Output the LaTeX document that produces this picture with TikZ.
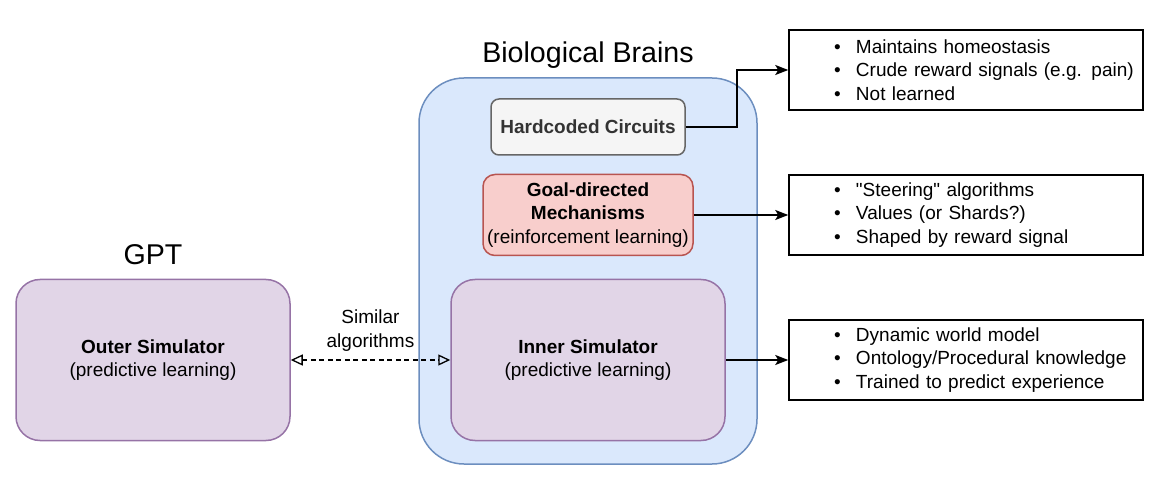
\documentclass[tikz,border=0pt]{standalone}
\usepackage{fontspec}
\setmainfont{Liberation Sans}
\usepackage{tikz}
\usetikzlibrary{calc,arrows.meta}

\definecolor{brainfill}{HTML}{DAE8FC}
\definecolor{brainline}{HTML}{6C8EBF}
\definecolor{hardfill}{HTML}{F5F5F5}
\definecolor{hardline}{HTML}{666666}
\definecolor{hardtext}{HTML}{333333}
\definecolor{goalfill}{HTML}{F8CECC}
\definecolor{goalline}{HTML}{B85450}
\definecolor{simfill}{HTML}{E1D5E7}
\definecolor{simline}{HTML}{9673A6}

\newcommand{\bul}[1]{\mbox{\makebox[22pt][l]{\textbullet}#1}}

\begin{document}
\begin{tikzpicture}[x=1pt, y=-1pt, >={Stealth[length=13pt,width=10pt,inset=3pt]}, line width=1.5pt,
    every node/.style={font=\fontsize{19}{23.5}\selectfont, inner sep=0pt, align=center},
    title/.style={font=\fontsize{28.6}{32}\selectfont},
    simbox/.style={draw=simline, fill=simfill, rounded corners=24pt,
        minimum width=274pt, minimum height=161pt},
    notebox/.style={draw=black, minimum width=354pt, minimum height=80pt,
        text width=264pt, align=left, inner xsep=45pt}]
    % canvas
    \useasboundingbox (0,0) rectangle (1160,481);

    % 1. Container for the brain
    \node[draw=brainline, fill=brainfill, rounded corners=45pt,
        minimum width=338pt, minimum height=386pt] (brain) at (588,271) {};
    \node[title] (braintitle) at (588,55) {Biological Brains};

    % 2. Parts of the brain
    \node[draw=hardline, fill=hardfill, rounded corners=8pt, text=hardtext,
        minimum width=194pt, minimum height=56pt] (hard) at (588,127)
        {\textbf{Hardcoded Circuits}};
    \node[draw=goalline, fill=goalfill, rounded corners=12pt,
        minimum width=210pt, minimum height=81pt] (goal) at (588,215)
        {\textbf{Goal-directed}\\\textbf{Mechanisms}\\(reinforcement learning)};
    \node[simbox] (inner) at (588,360)
        {\textbf{Inner Simulator}\\(predictive learning)};

    % 3. GPT on the left
    \node[title] (gpttitle) at (153,255) {GPT};
    \node[simbox] (outer) at (153,360)
        {\textbf{Outer Simulator}\\(predictive learning)};

    % 4. Notes on the right
    \node[notebox] (note1) at (966,70)
        {\bul{Maintains homeostasis}\\\bul{Crude reward signals (e.g. pain)}\\\bul{Not learned}};
    \node[notebox] (note2) at (966,215)
        {\bul{\textquotedbl Steering\textquotedbl\ algorithms}\\\bul{Values (or Shards?)}\\\bul{Shaped by reward signal}};
    \node[notebox] (note3) at (966,360)
        {\bul{Dynamic world model}\\\bul{Ontology/Procedural knowledge}\\\bul{Trained to predict experience}};

    % 5. Connectors
    \coordinate (mid1) at ($(hard.east)!0.5!(note1.west)$);
    \draw[->] (hard.east) -| (mid1) |- (note1.west);
    \draw[->] (goal.east) -- (goal.east -| note2.west);
    \draw[->] (inner.east) -- (note3.west);

    % 6. Similar algorithms
    \draw[{Triangle[open,length=12pt,width=11pt]}-{Triangle[open,length=12pt,width=11pt]},
        dash pattern=on 5pt off 3.5pt, line width=1.3pt]
        (outer.east) -- (inner.west) node[midway, above=8pt] (simlabel) {Similar\\algorithms};
\end{tikzpicture}
\end{document}
